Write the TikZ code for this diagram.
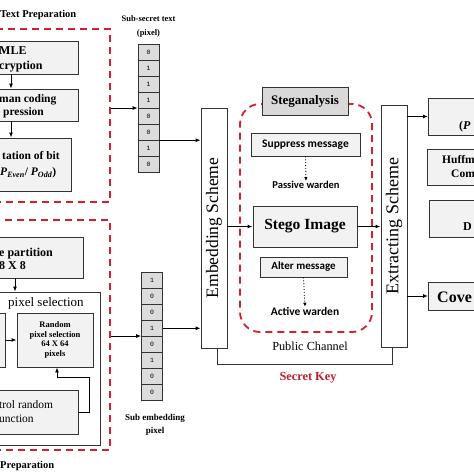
\documentclass[tikz,border=0pt]{standalone}
\usepackage{fontspec}
\setmainfont{Liberation Serif}
\setmonofont{Liberation Mono}
\newfontfamily\calfont{Carlito}
\usetikzlibrary{arrows.meta, positioning, calc}

\begin{document}
\begin{tikzpicture}[x=1pt, y=-1pt,
    box/.style={draw=black!80, line width=0.9pt, fill=boxgray, inner sep=0pt},
    redbox/.style={draw=redline, line width=1.8pt, dash pattern=on 7pt off 5pt, inner sep=0pt},
    cell/.style={draw=black!80, line width=0.7pt, fill=cellgray, minimum width=21pt, minimum height=16.1pt, inner sep=0pt, font=\ttfamily\fontsize{6.5}{7}\selectfont},
    arr/.style={-{Latex[length=5pt,width=4pt]}, line width=0.9pt},
    txt/.style={inner sep=0pt, align=center},
  ]
        % Màu sắc
        \definecolor{boxgray}{RGB}{242,242,242}
        \definecolor{darkgray}{RGB}{217,217,217}
        \definecolor{cellgray}{RGB}{220,220,220}
        \definecolor{redline}{RGB}{210,32,45}
        \definecolor{keyred}{RGB}{192,30,40}

        \useasboundingbox (0,0) rectangle (474,474);
        \clip (0,0) rectangle (474,474);

        % Khung chuẩn bị văn bản (trên)
        \node[redbox, minimum width=140pt, minimum height=173pt] (prepA) at (40,115.5) {};
        \node[txt, anchor=west, font=\bfseries\fontsize{10.5}{12}\selectfont] (prepAt) at (0,15) {Text Preparation};
        \node[box, minimum width=118pt, minimum height=33pt] (m1) at (19,57.5) {};
        \node[txt, anchor=west, align=left, font=\bfseries\fontsize{12}{15}\selectfont] at (-1,59.5) {MLE\\cryption};
        \node[box, minimum width=118pt, minimum height=32pt] (m2) at (19,105) {};
        \node[txt, anchor=west, align=left, font=\bfseries\fontsize{11.5}{13}\selectfont] at (-1,106.5) {man coding\\\hspace{4pt}pression};
        \node[box, minimum width=111pt, minimum height=53pt] (m3) at (15.5,164.5) {};
        \node[txt, anchor=west, align=left, font=\bfseries\fontsize{11.5}{16}\selectfont] at (0,165) {\hspace{2pt}tation of bit\\\textit{P}\textsubscript{\textit{Even}}/ \textit{P}\textsubscript{\textit{Odd}})};
        \draw[arr] ([xshift=-8pt]m1.south) -- ([xshift=-8pt]m2.north);
        \draw[arr] ([xshift=-8pt]m2.south) -- ([xshift=-8pt]m2.south |- m3.north);

        % Khung chuẩn bị ảnh (dưới)
        \node[redbox, minimum width=140pt, minimum height=230pt] (prepB) at (40,335) {};
        \node[txt, anchor=west, font=\bfseries\fontsize{10.5}{12}\selectfont] (prepBt) at (0,466) {Preparation};
        \node[box, minimum width=123pt, minimum height=41pt] (p1) at (21.5,257.5) {};
        \node[txt, anchor=west, align=left, font=\bfseries\fontsize{12}{13}\selectfont] at (-1,258.5) {e partition\\8 X 8};
        \node[box, fill=white, minimum width=140pt, minimum height=153pt] (psel) at (30,368.5) {};
        \node[txt, anchor=west, font=\fontsize{13}{14}\selectfont] at (8,303) {pixel selection};
        \draw[arr] ([xshift=-6.5pt]p1.south) -- ([xshift=-6.5pt]p1.south |- psel.north);
        \node[box, minimum width=45pt, minimum height=54pt] (q0) at (-17.5,340) {};
        \node[box, minimum width=76pt, minimum height=54pt, align=center, font=\bfseries\fontsize{8.5}{9.7}\selectfont] (rnd) at (55,340) {Random\\pixel selection\\64 X 64\\pixels};
        \draw[arr] (q0.east) -- (rnd.west);
        \node[box, minimum width=118pt, minimum height=44pt] (ctl) at (19,412) {};
        \node[txt, anchor=west, align=left, font=\fontsize{11.5}{14}\selectfont] at (-1,412) {trol random\\unction};
        \draw[arr] (ctl.east) -- ++(11,0) |- ($(rnd.south)+(2,10)$) -- ([xshift=2pt]rnd.south);

        % Các dãy bit
        \foreach \i/\b in {0/0, 1/1, 2/1, 3/1, 4/0, 5/0, 6/1, 7/0} {
            \node[cell] (s\i) at (148.5, 52+\i*16.1) {\b};
        }
        \foreach \i/\b in {0/1, 1/0, 2/0, 3/1, 4/0, 5/1, 6/0, 7/0} {
            \node[cell] (t\i) at (152, 280+\i*16.1) {\b};
        }
        \node[txt, font=\bfseries\fontsize{8.5}{14}\selectfont] (slab) at (148.5,26) {Sub-secret text\\(pixel)};
        \node[txt, font=\bfseries\fontsize{9}{13}\selectfont] (tlab) at (155,424.5) {Sub embedding\\pixel};
        \draw[arr] (prepA.east |- s4.north west) -- (s4.north west);
        \draw[arr] (prepB.east |- t4.north west) -- (t4.north west);

        % Nhúng và trích xuất
        \node[box, fill=white, minimum width=26pt, minimum height=240pt, font=\fontsize{17.5}{18}\selectfont] (emb) at (214,228) {\rotatebox{90}{Embedding Scheme}};
        \node[box, fill=white, minimum width=26pt, minimum height=242pt, font=\fontsize{18}{18}\selectfont] (ext) at (394,226) {\rotatebox{90}{Extracting Scheme}};
        \draw[arr] (s6.north east) -- (s6.north east -| emb.west);
        \draw[arr] (t3.east) -- (t3.east -| emb.west);

        % Kênh công khai
        \node[redbox, rounded corners=20pt, minimum width=132pt, minimum height=228pt] (warden) at (306,218) {};
        \node[box, fill=darkgray, minimum width=86pt, minimum height=28pt, font=\bfseries\fontsize{13}{14}\selectfont] (stega) at (305,101) {Steganalysis};
        \node[box, minimum width=109pt, minimum height=23pt, font=\calfont\bfseries\fontsize{11.5}{12}\selectfont] (supp) at (305.5,144.5) {Suppress message};
        \node[txt, font=\calfont\bfseries\fontsize{10.5}{12}\selectfont] (passive) at (306,185) {Passive warden};
        \draw[arr, dotted, -{Latex[length=4pt,width=3.5pt]}] (supp.south) -- (passive.north);
        \node[box, minimum width=104pt, minimum height=41pt, font=\bfseries\fontsize{15.5}{16}\selectfont] (stego) at (305,226.5) {Stego Image};
        \node[box, minimum width=87pt, minimum height=20pt, font=\calfont\bfseries\fontsize{11}{12}\selectfont] (alter) at (303.5,267) {Alter message};
        \node[txt, font=\calfont\bfseries\fontsize{11.5}{12}\selectfont] (active) at (305,311) {Active warden};
        \draw[arr, dotted, -{Latex[length=4pt,width=3.5pt]}] (alter.south) -- (active.north);
        \draw[arr] (emb.east |- stego.west) -- (stego.west);
        \draw[arr] (stego.east) -- (stego.east -| ext.west);
        \node[txt, font=\fontsize{12.3}{13}\selectfont] (pub) at (310,346) {Public Channel};
        \node[txt, text=keyred, font=\bfseries\fontsize{12.3}{13}\selectfont] (key) at (308,378) {Secret Key};
        \draw[line width=0.9pt, draw=black!80] ([xshift=3pt]emb.south) -- ++(0,16) -| ([xshift=-2pt]ext.south);

        % Cột bên phải
        \node[box, anchor=west, minimum width=80pt, minimum height=37pt] (r1) at (428,116.5) {};
        \node[txt, anchor=west, font=\bfseries\fontsize{12}{13}\selectfont] at (459,127) {(\textit{P}};
        \node[box, anchor=west, minimum width=80pt, minimum height=36pt] (r2) at (427,167) {};
        \node[txt, anchor=west, font=\bfseries\fontsize{11.5}{12}\selectfont] at (442,160) {Huffm};
        \node[txt, anchor=west, font=\bfseries\fontsize{11.5}{12}\selectfont] at (451,174) {Com};
        \node[box, anchor=west, minimum width=80pt, minimum height=37pt] (r3) at (429,218.5) {};
        \node[txt, anchor=west, font=\bfseries\fontsize{12}{13}\selectfont] at (463,227) {D};
        \node[box, anchor=west, minimum width=80pt, minimum height=28pt] (r4) at (428,296) {};
        \node[txt, anchor=west, font=\bfseries\fontsize{16}{17}\selectfont] at (437,297) {Cove};
        \draw[arr] (ext.east |- r1.west) -- (r1.west);
        \draw[arr] (ext.east |- r4.west) -- (r4.west);
\end{tikzpicture}
\end{document}
